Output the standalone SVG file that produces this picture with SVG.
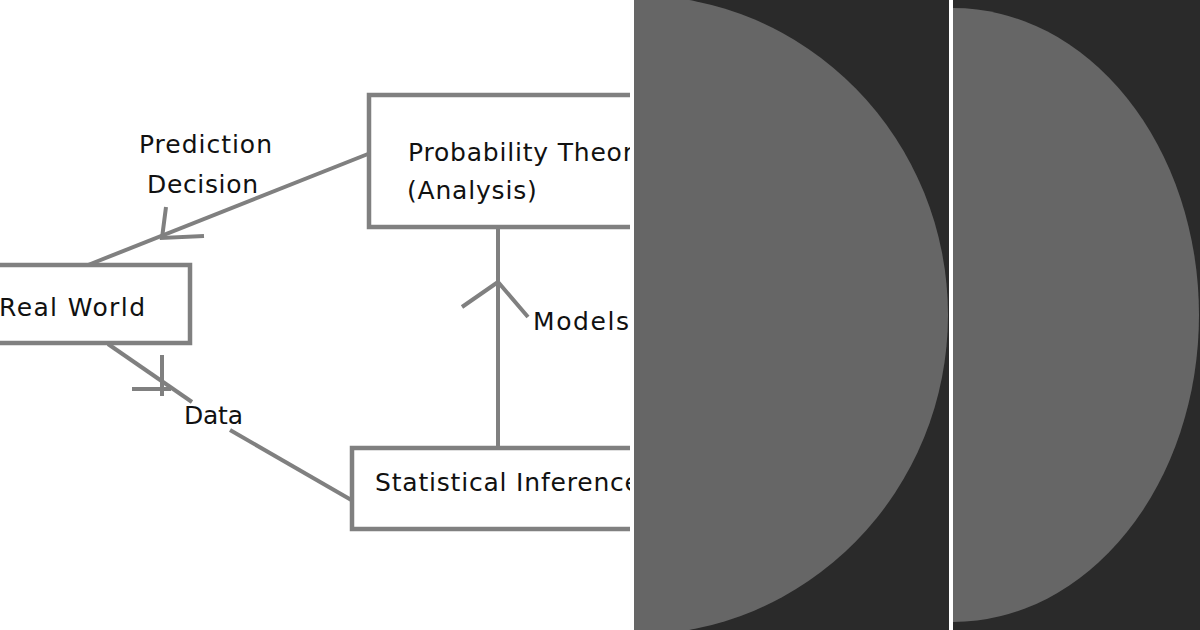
<svg xmlns="http://www.w3.org/2000/svg" width="1200" height="630" viewBox="0 0 1200 630">
<defs>
<style>
.box{fill:#ffffff;stroke:#808080;stroke-width:4.5}
.ln{fill:none;stroke:#808080;stroke-width:4;stroke-linecap:butt;stroke-linejoin:miter}
.t{font-family:"DejaVu Sans","Liberation Sans",sans-serif;font-size:25px;fill:#111111}
.panel{fill:#2a2a2a}
.disc{fill:#666666}
</style>
<clipPath id="leftclip"><rect x="0" y="0" width="630" height="630"/></clipPath>
<clipPath id="p1clip"><rect x="634" y="0" width="315" height="630"/></clipPath>
<clipPath id="p2clip"><rect x="953" y="0" width="247" height="630"/></clipPath>
</defs>
<rect x="0" y="0" width="1200" height="630" fill="#ffffff"/>
<g clip-path="url(#leftclip)">
<g id="connectors">
<path class="ln" d="M373 152 L88 265"/>
<path class="ln" d="M166 207 L162 238 L204 236"/>
<path class="ln" d="M108 344 L192 402"/>
<path class="ln" d="M230 430 L360 505"/>
<path class="ln" d="M162 355 L162 396"/>
<path class="ln" d="M132 389 L171 389"/>
<path class="ln" d="M498 217 L498 450"/>
<path class="ln" d="M462 307 L498 282 L528 317"/>
</g>
<g id="node-real-world">
<rect class="box" x="-10" y="265" width="200" height="78"/>
<text class="t" x="-1" y="316" textLength="146" lengthAdjust="spacing">Real World</text>
</g>
<g id="node-probability">
<rect class="box" x="369" y="95" width="340" height="132"/>
<text class="t" x="408" y="161" letter-spacing="0.8">Probability Theory</text>
<text class="t" x="407" y="199" letter-spacing="0.8">(Analysis)</text>
</g>
<g id="node-statistical">
<rect class="box" x="352" y="448" width="340" height="81"/>
<text class="t" x="375" y="491" letter-spacing="0.8">Statistical Inference</text>
</g>
<g id="labels">
<text class="t" x="139" y="153" textLength="133" lengthAdjust="spacing">Prediction</text>
<text class="t" x="147" y="193" textLength="111" lengthAdjust="spacing">Decision</text>
<text class="t" x="184" y="424" textLength="59" lengthAdjust="spacing">Data</text>
<text class="t" x="533" y="330" textLength="96" lengthAdjust="spacing">Models</text>
</g>
</g>
<g id="panels">
<rect class="panel" x="634" y="0" width="315" height="630"/>
<ellipse class="disc" cx="634" cy="315" rx="314" ry="320" clip-path="url(#p1clip)"/>
<rect class="panel" x="953" y="0" width="247" height="630"/>
<ellipse class="disc" cx="953" cy="315" rx="246" ry="307" clip-path="url(#p2clip)"/>
</g>
</svg>
